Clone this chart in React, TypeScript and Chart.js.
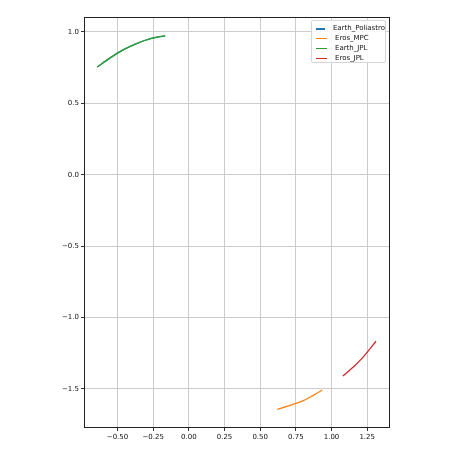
import { useEffect, useRef } from "react";
import { Chart, registerables } from "chart.js";

Chart.register(...registerables);

const earthPoliastroX = [-0.643, -0.554, -0.461, -0.367, -0.274, -0.166];
const earthPoliastroY = [0.754, 0.817, 0.875, 0.919, 0.952, 0.973];
const erosMpcX = [0.62, 0.709, 0.802, 0.872, 0.935];
const erosMpcY = [-1.644, -1.616, -1.583, -1.546, -1.509];
const earthJplX = [-0.643, -0.554, -0.461, -0.367, -0.274, -0.166];
const earthJplY = [0.754, 0.817, 0.875, 0.919, 0.952, 0.973];
const erosJplX = [1.079, 1.153, 1.223, 1.312];
const erosJplY = [-1.411, -1.347, -1.277, -1.167];

const xTicks = [-0.5, -0.25, 0, 0.25, 0.5, 0.75, 1.0, 1.25];
const yTicks = [-1.5, -1.0, -0.5, 0, 0.5, 1.0];

const series = [
  { label: "Earth_Poliastro", xs: earthPoliastroX, ys: earthPoliastroY, color: "#1f77b4" },
  { label: "Eros_MPC", xs: erosMpcX, ys: erosMpcY, color: "#ff7f0e" },
  { label: "Earth_JPL", xs: earthJplX, ys: earthJplY, color: "#2ca02c" },
  { label: "Eros_JPL", xs: erosJplX, ys: erosJplY, color: "#d62728" },
];

const FONT = "'DejaVu Sans', sans-serif";
const minus = (s: string) => s.replace("-", "\u2212");

// matplotlib draws a box on all four sides
const spines = {
  id: "spines",
  afterDatasetsDraw(chart: any) {
    const { ctx, chartArea: a } = chart;
    ctx.save();
    ctx.strokeStyle = "#222";
    ctx.lineWidth = 1;
    ctx.strokeRect(a.left + 0.5, a.top + 0.5, a.right - a.left - 1, a.bottom - a.top - 1);
    ctx.restore();
  },
};

function OrbitChart() {
  const canvasRef = useRef<HTMLCanvasElement>(null);
  const chartRef = useRef<Chart | null>(null);

  useEffect(() => {
    if (!canvasRef.current) return;
    chartRef.current?.destroy();
    chartRef.current = new Chart(canvasRef.current, {
      type: "scatter",
      data: {
        datasets: series.map((s, i) => ({
          label: s.label,
          data: s.xs.map((x, j) => ({ x, y: s.ys[j] })),
          showLine: true,
          borderColor: s.color,
          backgroundColor: s.color,
          borderWidth: 1.3,
          pointRadius: 0,
          tension: 0.3,
          order: series.length - i, // later series on top, like matplotlib
        })),
      },
      options: {
        responsive: true,
        maintainAspectRatio: false,
        animation: false,
        layout: { padding: { left: 0, top: 17, right: 84, bottom: 0 } },
        plugins: { legend: { display: false }, tooltip: { enabled: false } },
        scales: {
          x: {
            type: "linear",
            min: -0.735,
            max: 1.41,
            afterBuildTicks: (s: any) => {
              s.ticks = xTicks.map((v) => ({ value: v }));
            },
            afterFit: (s: any) => {
              s.height = 46;
            },
            grid: { color: "#cccccc", lineWidth: 1, tickLength: 3, tickColor: "#333" },
            border: { display: false },
            ticks: {
              color: "#111",
              padding: 2,
              maxRotation: 0,
              font: { family: FONT, size: 7 },
              callback: (v: any) => minus(Number(v).toFixed(2)),
            },
          },
          y: {
            type: "linear",
            min: -1.775,
            max: 1.105,
            afterBuildTicks: (s: any) => {
              s.ticks = yTicks.map((v) => ({ value: v }));
            },
            afterFit: (s: any) => {
              s.width = 84;
            },
            grid: { color: "#cccccc", lineWidth: 1, tickLength: 3, tickColor: "#333" },
            border: { display: false },
            ticks: {
              color: "#111",
              padding: 2,
              font: { family: FONT, size: 7 },
              callback: (v: any) => minus(Number(v).toFixed(1)),
            },
          },
        },
      },
      plugins: [spines],
    });
    return () => chartRef.current?.destroy();
  }, []);

  return (
    <div style={{ position: "fixed", left: 0, top: 0, width: 474, height: 474, background: "#fff" }}>
      <canvas ref={canvasRef} />
      <div
        style={{
          position: "absolute",
          left: 311,
          top: 20,
          width: 75,
          height: 43,
          boxSizing: "border-box",
          border: "1px solid #d6d6d6",
          borderRadius: 2,
          background: "rgba(255,255,255,0.85)",
          fontFamily: FONT,
          fontSize: 7,
          color: "#111",
          paddingTop: 3,
        }}
      >
        {series.map((s) => (
          <div key={s.label} style={{ display: "flex", alignItems: "center", height: 9.8 }}>
            <span style={{ display: "inline-block", width: 11, height: 1.4, marginLeft: 4, background: s.color }} />
            <span style={{ marginLeft: 8, lineHeight: "9px" }}>{s.label}</span>
          </div>
        ))}
      </div>
    </div>
  );
}

export default function App() {
  return <OrbitChart />;
}
